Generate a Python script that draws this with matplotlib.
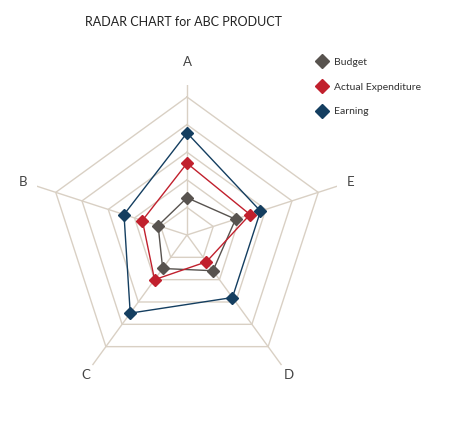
import numpy as np
import matplotlib.pyplot as plt

axes_labels = ["A", "B", "C", "D", "E"]
budget = [1.35, 1.1, 1.5, 1.6, 1.85]
actual = [2.6, 1.7, 2.0, 1.2, 2.4]
earning = [3.7, 2.4, 3.5, 2.8, 2.8]
series = [("Budget", budget, "#58534f"), ("Actual Expenditure", actual, "#c1202d"), ("Earning", earning, "#143e60")]
rmax = 5

plt.rcParams['font.family'] = ['Lato', 'DejaVu Sans']
fig = plt.figure(figsize=(4.74, 4.23), dpi=100)
ax = fig.add_axes([37/474, 38/423, 300/474, 300/423])
lim = 150 / 138 * rmax
ax.set_xlim(-lim, lim)
ax.set_ylim(-lim, lim)
ax.set_aspect('equal')
ax.axis('off')

ang = np.deg2rad(90 + 72 * np.arange(5))
cx, cy = np.cos(ang), np.sin(ang)
grid = "#d9d0c4"
for r in range(1, rmax + 1):
    ax.plot(np.append(cx, cx[0]) * r, np.append(cy, cy[0]) * r, color=grid, lw=1, zorder=1)
for i in range(5):
    ax.plot([0, cx[i] * 5.8], [0, cy[i] * 5.8], color=grid, lw=1, zorder=1)
    ax.text(cx[i] * 6.25, cy[i] * 6.25, axes_labels[i], ha='center', va='center',
            fontsize=9.5, color="#444444", clip_on=False)

for name, vals, col in series:
    v = np.array(vals + vals[:1])
    ax.plot(np.append(cx, cx[0]) * v, np.append(cy, cy[0]) * v, color=col, lw=1, zorder=2)
    ax.plot(cx * np.array(vals), cy * np.array(vals), 'D', color=col, ms=6, zorder=3, label=name)

fig.text(183/474, 1 - 22/423, "RADAR CHART for ABC PRODUCT", ha='center', va='center',
         fontsize=9, color="#222222")
fig.legend(loc='upper left', bbox_to_anchor=(305/474, 1 - 48/423), frameon=False,
           fontsize=7.5, labelcolor="#333333", labelspacing=1.5, handletextpad=0.4,
           handlelength=1.5, markerscale=1.15)
fig.savefig("out.png", dpi=100)
